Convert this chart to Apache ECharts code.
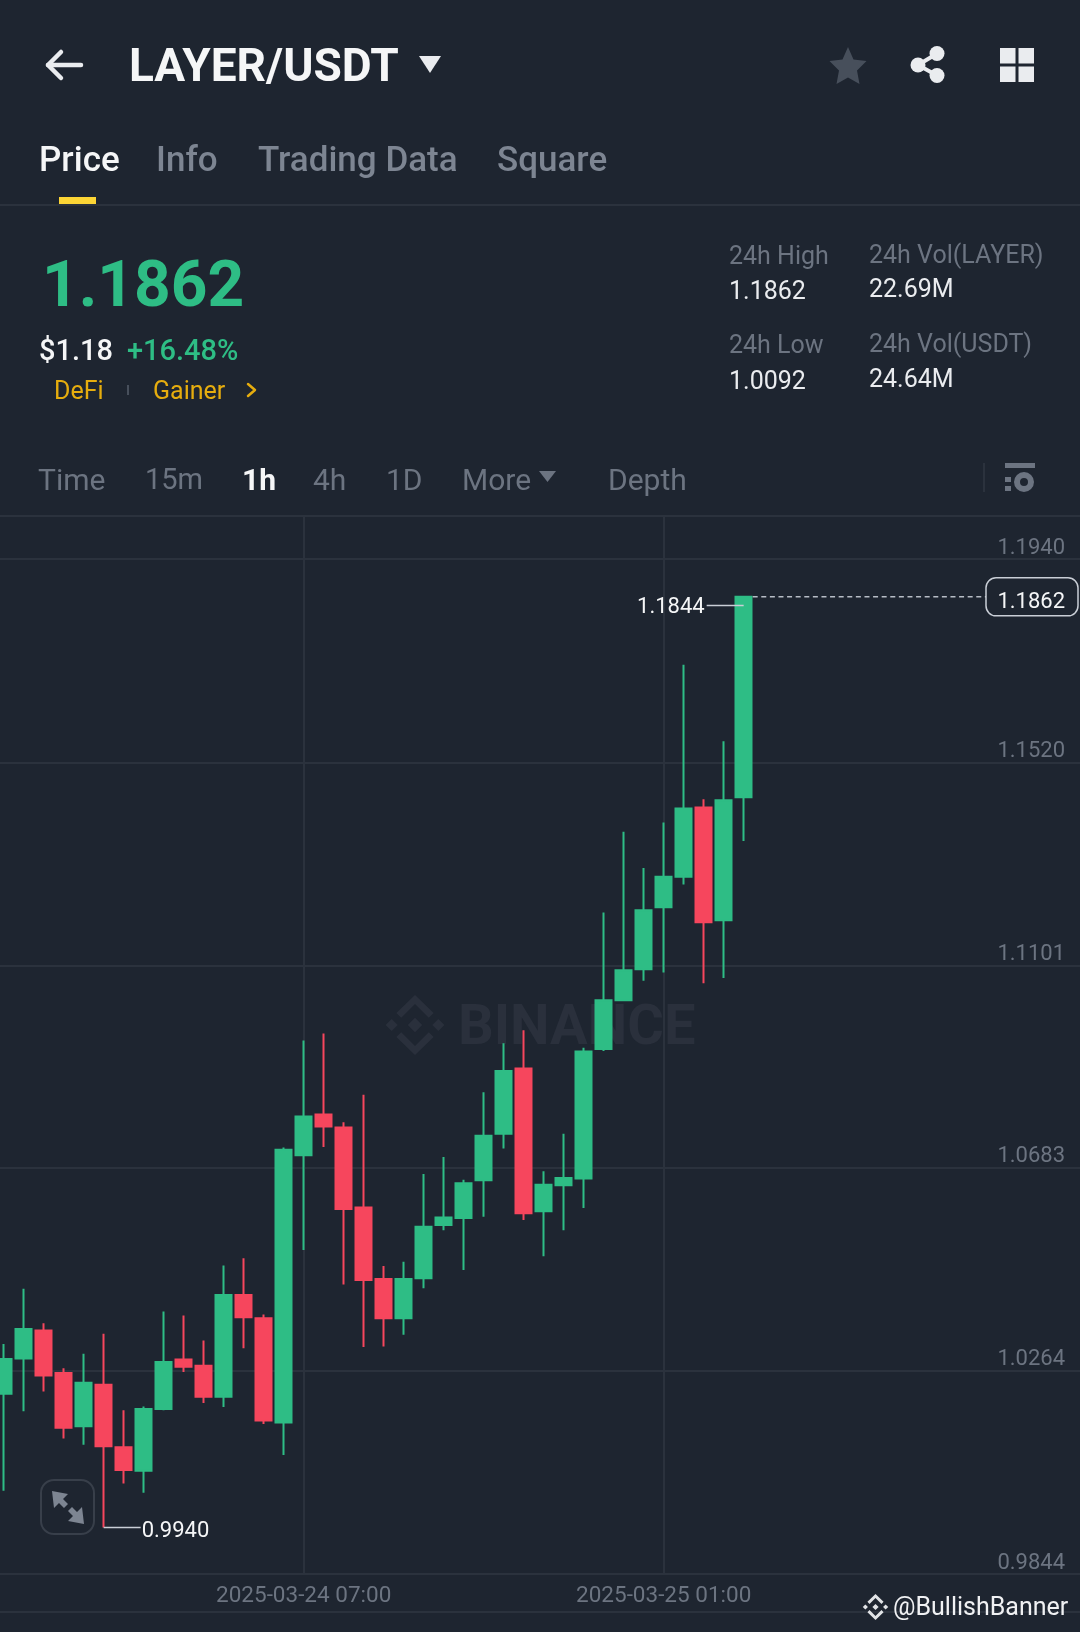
<!DOCTYPE html>
<html>
<head>
<meta charset="utf-8">
<title>LAYER/USDT</title>
<style>
  html, body { margin: 0; padding: 0; background: #1e2530; }
  #chart { width: 1080px; height: 1632px; }
</style>
<script src="https://cdn.jsdelivr.net/npm/echarts@6/dist/echarts.min.js"></script>
</head>
<body>
<div id="chart"></div>
<script>
// hourly candles
var times = [
  '2025-03-23 15:00', '2025-03-23 16:00', '2025-03-23 17:00', '2025-03-23 18:00', '2025-03-23 19:00', '2025-03-23 20:00',
  '2025-03-23 21:00', '2025-03-23 22:00', '2025-03-23 23:00', '2025-03-24 00:00', '2025-03-24 01:00', '2025-03-24 02:00',
  '2025-03-24 03:00', '2025-03-24 04:00', '2025-03-24 05:00', '2025-03-24 06:00', '2025-03-24 07:00', '2025-03-24 08:00',
  '2025-03-24 09:00', '2025-03-24 10:00', '2025-03-24 11:00', '2025-03-24 12:00', '2025-03-24 13:00', '2025-03-24 14:00',
  '2025-03-24 15:00', '2025-03-24 16:00', '2025-03-24 17:00', '2025-03-24 18:00', '2025-03-24 19:00', '2025-03-24 20:00',
  '2025-03-24 21:00', '2025-03-24 22:00', '2025-03-24 23:00', '2025-03-25 00:00', '2025-03-25 01:00', '2025-03-25 02:00',
  '2025-03-25 03:00', '2025-03-25 04:00', '2025-03-25 05:00'
]
var opens = ['-', 1.0216, 1.0289, 1.0347, 1.0259, 1.0149, 1.0235, 1.0106, 1.0057, 1.0185, 1.0287, 1.0274, 1.0210, 1.0420, 1.0372, 1.0157, 1.0709, 1.0793, 1.0766, 1.0601, 1.0453, 1.0372, 1.0455, 1.0565, 1.0579, 1.0657, 1.0753, 1.0888, 1.0593, 1.0647, 1.0661, 1.0928, 1.1029, 1.1093, 1.1221, 1.1284, 1.1427, 1.1194, 1.1448]
var closes = ['-', 1.0288, 1.0350, 1.0254, 1.0146, 1.0239, 1.0108, 1.0059, 1.0185, 1.0282, 1.0272, 1.0210, 1.0420, 1.0374, 1.0161, 1.0720, 1.0789, 1.0768, 1.0598, 1.0451, 1.0372, 1.0453, 1.0561, 1.0580, 1.0651, 1.0749, 1.0883, 1.0589, 1.0648, 1.0662, 1.0923, 1.1029, 1.1091, 1.1215, 1.1284, 1.1425, 1.1190, 1.1442, 1.1862]
var lows = ['-', 1.0016, 1.0180, 1.0221, 1.0124, 1.0111, 0.9940, 1.0031, 1.0012, 1.0182, 1.0261, 1.0197, 1.0189, 1.0310, 1.0154, 1.0090, 1.0513, 1.0726, 1.0442, 1.0313, 1.0314, 1.0338, 1.0434, 1.0554, 1.0472, 1.0582, 1.0723, 1.0575, 1.0500, 1.0554, 1.0600, 1.0924, 1.1029, 1.1069, 1.1086, 1.1268, 1.1064, 1.1075, 1.1358]
var highs = ['-', 1.0319, 1.0433, 1.0362, 1.0269, 1.0299, 1.0340, 1.0182, 1.0190, 1.0386, 1.0378, 1.0326, 1.0481, 1.0496, 1.0380, 1.0725, 1.0946, 1.0960, 1.0777, 1.0834, 1.0480, 1.0489, 1.0670, 1.0705, 1.0658, 1.0839, 1.0940, 1.0967, 1.0676, 1.0753, 1.0931, 1.1210, 1.1377, 1.1302, 1.1396, 1.1722, 1.1444, 1.1564, 1.1862]

var priceTicks = [0.9844, 1.0264, 1.0683, 1.1101, 1.1520, 1.1940]
var timeTicks = ['2025-03-24 07:00', '2025-03-25 01:00']
var lastPrice = [[38, 1.1862]]
var lowMark = [[6, 0.9940]]
var highMark = [[38, 1.1844]]

var GREEN = '#2ebd85', RED = '#f6465d', BG = '#1e2530', LINE = '#2b323d'
var GREY = '#7d8592', DIM = '#6c7481', WHITE = '#eaecef', YELLOW = '#e6ad0e'
var FONT = 'Roboto, "Noto Sans", sans-serif'

var categories = times.slice()
while (categories.length < 57) categories.push('')

var candles = opens.map(function (o, i) {
  return [o, closes[i], lows[i], highs[i]]
})

// small helpers for the app chrome around the chart
function txt(text, x, y, size, fill, weight, align) {
  return {
    type: 'text', silent: true,
    style: {
      text: text, x: x, y: y, fill: fill,
      font: (weight || 400) + ' ' + size + 'px ' + FONT,
      align: align || 'left', verticalAlign: 'middle'
    }
  }
}
function rect(x, y, w, h, fill, r) {
  return { type: 'rect', silent: true, shape: { x: x, y: y, width: w, height: h, r: r || 0 }, style: { fill: fill } }
}
function hline(y, color) {
  return { type: 'line', silent: true, shape: { x1: 0, y1: y, x2: 1080, y2: y }, style: { stroke: color || LINE, lineWidth: 2 } }
}
function icon(points, fill, z) {
  return { type: 'polygon', silent: true, z: z || 0, shape: { points: points }, style: { fill: fill } }
}
function stroke(points, color, w) {
  return { type: 'polyline', silent: true, shape: { points: points }, style: { fill: 'none', stroke: color, lineWidth: w, lineCap: 'round', lineJoin: 'round' } }
}
function diamond(cx, cy, r) {
  return [[cx - r, cy], [cx, cy - r], [cx + r, cy], [cx, cy + r]]
}
function chevron(cx, cy, s, t) {
  return [[cx, cy + t * 1.0 * s], [cx + 0.62 * s, cy + t * 0.4 * s], [cx + 0.46 * s, cy + t * 0.24 * s], [cx, cy + t * 0.7 * s], [cx - 0.46 * s, cy + t * 0.24 * s], [cx - 0.62 * s, cy + t * 0.4 * s]]
}
// binance logo: three diamonds and two chevrons
function logo(cx, cy, s, fill, z) {
  return [
    diamond(cx, cy, 0.24 * s), diamond(cx - 0.78 * s, cy, 0.2 * s), diamond(cx + 0.78 * s, cy, 0.2 * s),
    chevron(cx, cy, s, -1), chevron(cx, cy, s, 1)
  ].map(function (p) { return icon(p, fill, z) })
}

var chrome = [
  // header
  stroke([[81, 65], [48, 65]], WHITE, 4.5),
  stroke([[61, 52], [48, 65], [61, 78]], WHITE, 4.5),
  txt('LAYER/USDT', 129, 69, 46, '#f5f6f7', 700),
  icon([[419, 56], [441, 56], [430, 73]], WHITE),
  icon([[848, 47], [853.5, 59.5], [866.5, 61], [857, 70.5], [859.5, 84], [848, 77.5], [836.5, 84], [839, 70.5], [829.5, 61], [842.5, 59.5]], '#474f5b'),
  stroke([[938, 53], [918, 65], [938, 76]], WHITE, 4),
  { type: 'circle', silent: true, shape: { cx: 937, cy: 53.5, r: 7.5 }, style: { fill: WHITE } },
  { type: 'circle', silent: true, shape: { cx: 918, cy: 65, r: 7.5 }, style: { fill: WHITE } },
  { type: 'circle', silent: true, shape: { cx: 937, cy: 75.5, r: 7.5 }, style: { fill: WHITE } },
  rect(1000, 48, 15.5, 15.5, WHITE), rect(1018.5, 48, 15.5, 15.5, WHITE),
  rect(1000, 66.5, 15.5, 15.5, WHITE), rect(1018.5, 66.5, 15.5, 15.5, WHITE),
  // tabs
  txt('Price', 39, 162, 35, '#f5f6f7', 500),
  txt('Info', 156, 162, 35, GREY, 500),
  txt('Trading Data', 258, 162, 35, GREY, 500),
  txt('Square', 497, 162, 35, GREY, 500),
  hline(205),
  rect(59, 197, 37, 7, '#fcd535'),
  // price block
  txt('1.1862', 42, 290, 64, GREEN, 700),
  txt('$1.18', 39, 353, 29, '#f5f6f7', 500),
  txt('+16.48%', 127, 353, 29, GREEN, 500),
  txt('DeFi', 54, 393, 25, YELLOW),
  rect(127, 385, 2, 10, '#474f5b'),
  txt('Gainer', 153, 393, 25, YELLOW),
  stroke([[248, 384], [255, 390], [248, 396]], YELLOW, 2.5),
  txt('24h High', 729, 258, 25, DIM),
  txt('1.1862', 729, 293, 25, WHITE),
  txt('24h Low', 729, 347, 25, DIM),
  txt('1.0092', 729, 383, 25, WHITE),
  txt('24h Vol(LAYER)', 869, 257, 25, DIM),
  txt('22.69M', 869, 291, 25, WHITE),
  txt('24h Vol(USDT)', 869, 346, 25, DIM),
  txt('24.64M', 869, 381, 25, WHITE),
  // interval row
  txt('Time', 38, 482, 30, DIM),
  txt('15m', 145, 482, 29, DIM),
  txt('1h', 242, 482, 30, '#f5f6f7', 700),
  txt('4h', 313, 482, 30, DIM),
  txt('1D', 386, 482, 30, DIM),
  txt('More', 462, 482, 30, DIM),
  icon([[539, 471], [556, 471], [547.5, 482]], DIM),
  txt('Depth', 608, 482, 30, DIM),
  rect(983, 463, 2, 29, LINE),
  rect(1005, 463, 30, 5, DIM), rect(1005, 477, 6, 5, DIM), rect(1005, 486, 6, 5, DIM),
  { type: 'ring', silent: true, shape: { cx: 1024, cy: 482, r: 10, r0: 4 }, style: { fill: DIM } },
  hline(516),
  hline(1612),
  // expand button
  { type: 'rect', silent: true, shape: { x: 41, y: 1480, width: 53, height: 54, r: 13 }, style: { fill: 'none', stroke: '#383f4a', lineWidth: 2 } },
  icon([[52, 1491], [68, 1494], [63, 1499], [68, 1504], [64, 1508], [59, 1503], [54, 1508]], GREY),
  icon([[84, 1524], [68, 1521], [73, 1516], [68, 1511], [72, 1507], [77, 1512], [82, 1507]], GREY),
  // footer
  { type: 'text', silent: true, z: 5, style: { text: '@BullishBanner', x: 893, y: 1609, fill: '#f0f1f3', font: '400 25px ' + FONT, align: 'left', verticalAlign: 'middle' } }
].concat(logo(875.5, 1607, 13, '#e2e4e7', 5))

// Binance watermark sits under the candles
var watermark = logo(415, 1025, 30, '#2a303c', -10).concat([
  { type: 'text', silent: true, z: -10, style: { text: 'BINANCE', x: 458, y: 1030, fill: '#2a303c', font: '700 56px ' + FONT, align: 'left', verticalAlign: 'middle' } }
])

var myChart = echarts.init(document.getElementById('chart'))
var option = {
  backgroundColor: BG,
  animation: false,
  textStyle: { fontFamily: FONT },
  grid: { left: -16.33, right: -23.67, top: 516, bottom: 58, outerBoundsMode: 'none' },
  xAxis: {
    type: 'category',
    data: categories,
    boundaryGap: false,
    axisLine: { show: false },
    axisTick: { show: false },
    splitLine: {
      show: true,
      interval: function (i, v) { return timeTicks.indexOf(v) >= 0 },
      lineStyle: { color: LINE, width: 2 }
    },
    axisLabel: {
      interval: function (i, v) { return timeTicks.indexOf(v) >= 0 },
      color: DIM, fontSize: 22.5, margin: 11, hideOverlap: false
    }
  },
  yAxis: {
    type: 'value',
    position: 'right',
    min: 0.9844,
    max: 1.2029,
    axisLine: { show: false },
    axisTick: { show: false, customValues: priceTicks },
    splitLine: { show: true, lineStyle: { color: LINE, width: 2 } },
    axisLabel: {
      customValues: priceTicks,
      inside: true,
      margin: 38.67,
      color: DIM,
      fontSize: 22,
      verticalAlign: 'bottom',
      padding: 0,
      formatter: function (v) { return v.toFixed(4) }
    }
  },
  graphic: { elements: watermark.concat(chrome) },
  series: [
    {
      type: 'candlestick',
      data: candles,
      barWidth: 16,
      z: 3,
      itemStyle: { color: GREEN, color0: RED, borderColor: GREEN, borderColor0: RED, borderWidth: 2 }
    },
    {
      // dashed line to the last price tag
      type: 'custom',
      data: lastPrice,
      z: 4,
      silent: true,
      encode: { x: 0, y: 1 },
      renderItem: function (params, api) {
        var p = api.coord([api.value(0), api.value(1)])
        return {
          type: 'group',
          children: [
            { type: 'line', shape: { x1: p[0] + 9, y1: p[1], x2: 986, y2: p[1] }, style: { stroke: '#b7bdc6', lineWidth: 1.5, lineDash: [5, 3.6] } },
            { type: 'rect', shape: { x: 986, y: p[1] - 19, width: 92, height: 38, r: 10 }, style: { fill: BG, stroke: '#c9ced6', lineWidth: 1.5 } },
            { type: 'text', style: { text: api.value(1).toFixed(4), x: 1065, y: p[1] + 6, fill: '#f5f6f7', font: '400 22px ' + FONT, align: 'right', verticalAlign: 'middle' } }
          ]
        }
      }
    },
    {
      // lowest price flag, points right
      type: 'custom',
      data: lowMark,
      z: 4,
      silent: true,
      encode: { x: 0, y: 1 },
      renderItem: function (params, api) {
        var p = api.coord([api.value(0), api.value(1)])
        return {
          type: 'group',
          children: [
            { type: 'line', shape: { x1: p[0], y1: p[1], x2: p[0] + 37, y2: p[1] }, style: { stroke: '#c9ced6', lineWidth: 1.5 } },
            { type: 'text', style: { text: api.value(1).toFixed(4), x: p[0] + 38, y: p[1] + 4, fill: '#f5f6f7', font: '400 22px ' + FONT, align: 'left', verticalAlign: 'middle' } }
          ]
        }
      }
    },
    {
      // highest price flag, points left
      type: 'custom',
      data: highMark,
      z: 4,
      silent: true,
      encode: { x: 0, y: 1 },
      renderItem: function (params, api) {
        var p = api.coord([api.value(0), api.value(1)])
        return {
          type: 'group',
          children: [
            { type: 'line', shape: { x1: p[0], y1: p[1], x2: p[0] - 37, y2: p[1] }, style: { stroke: '#c9ced6', lineWidth: 1.5 } },
            { type: 'text', style: { text: api.value(1).toFixed(4), x: p[0] - 39, y: p[1] + 2, fill: '#f5f6f7', font: '400 22px ' + FONT, align: 'right', verticalAlign: 'middle' } }
          ]
        }
      }
    }
  ]
}
myChart.setOption(option)
</script>
</body>
</html>
